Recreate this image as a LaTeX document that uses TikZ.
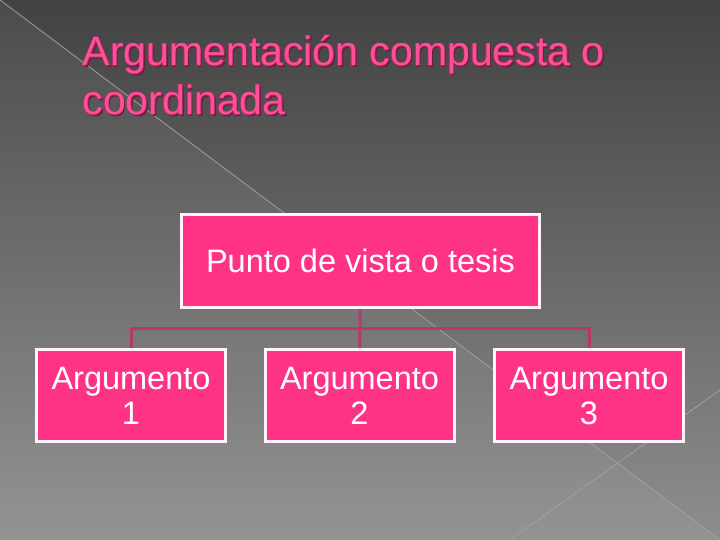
\documentclass[tikz,border=0pt]{standalone}
\usepackage{fontspec}
\setmainfont{Liberation Sans}
\pgfdeclarelayer{bglayer}
\pgfdeclarelayer{linklayer}
\pgfsetlayers{bglayer,linklayer,main}
\definecolor{bgtop}{HTML}{424242}
\definecolor{bgbot}{HTML}{8E8E8E}
\definecolor{diag}{HTML}{A0A0A0}
\definecolor{boxpink}{HTML}{FE3386}
\definecolor{boxedge}{HTML}{FFF2F8}
\definecolor{linkpink}{HTML}{B8386C}
\definecolor{titlepink}{HTML}{FF4F98}
\definecolor{titleshadow}{HTML}{6A1E40}
\definecolor{titleedge}{HTML}{A82A60}
\tikzset{
  box/.style={draw=boxedge, line width=3pt, fill=boxpink, text=white,
    inner sep=0pt, align=center},
  topbox/.style={box, minimum width=358pt, minimum height=93pt,
    font=\fontsize{32.5}{36}\selectfont},
  argbox/.style={box, minimum width=189pt, minimum height=92pt,
    font=\fontsize{32.5}{35}\selectfont},
  link/.style={draw=linkpink, line width=3pt},
  titletext/.style={anchor=base west, inner sep=0pt, text=titlepink,
    font=\fontsize{41}{49}\selectfont},
  titleshade/.style={titletext, text=titleshadow},
  titleline/.style={titletext, text=titleedge}
}
\begin{document}
\begin{tikzpicture}[x=1pt,y=-1pt]
\useasboundingbox (0,0) rectangle (720,540);
% background
\begin{pgfonlayer}{bglayer}
\shade[top color=bgtop, bottom color=bgbot] (0,0) rectangle (720,540);
\fill[white, opacity=0.05] (0,0) -- (720,540) -- (0,540) -- cycle;
\draw[diag, line width=0.8pt] (0,0) -- (720,540);
\draw[diag, line width=0.8pt] (720,390) -- (510,540);
\end{pgfonlayer}
% title: shadow, outline, face
\node[titleshade] (t1s) at (84.2,67.7) {Argumentación compuesta o};
\node[titleshade] (t2s) at (84.2,116.7) {coordinada};
\foreach \dx/\dy [count=\k] in {-0.7/0,0.7/0,0/-0.7,0/0.7}{
  \node[titleline] (t1o\k) at (82.5+\dx,66+\dy) {Argumentación compuesta o};
  \node[titleline] (t2o\k) at (82.5+\dx,115+\dy) {coordinada};
}
\node[titletext] (t1) at (82.5,66) {Argumentación compuesta o};
\node[titletext] (t2) at (82.5,115) {coordinada};
% boxes
\node[topbox] (top) at (360.5,261) {Punto de vista o tesis};
\node[argbox] (a1) at (131,395.5) {Argumento\\1};
\node[argbox] (a2) at (359.5,395.5) {Argumento\\2};
\node[argbox] (a3) at (589,395.5) {Argumento\\3};
\coordinate (j) at (360,328);
% connectors, behind the boxes
\begin{pgfonlayer}{linklayer}
\draw[link] (top.center) -- (j);
\draw[link] (j) -| (a1.center);
\draw[link] (j) -| (a3.center);
\draw[link] (j) -- (a2.center);
\end{pgfonlayer}
\end{tikzpicture}
\end{document}
